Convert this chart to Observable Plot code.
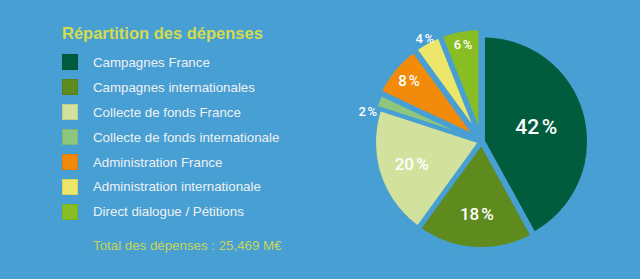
<!DOCTYPE html>
<html>
<head>
<meta charset="utf-8">
<script src="https://cdn.jsdelivr.net/npm/d3@7"></script>
<script src="https://cdn.jsdelivr.net/npm/@observablehq/plot@0.6"></script>
<style>
  html, body { margin: 0; padding: 0; background: #489fd3; }
  #wrap { position: relative; width: 640px; height: 279px; background: #489fd3; overflow: hidden; font-family: "Liberation Sans", Arial, sans-serif; }
  #legend { position: absolute; left: 62px; top: 22px; }
  #legend .title { color: #d3dc4c; font-weight: bold; font-size: 16.5px; height: 22px; line-height: 22px; margin-bottom: 6px; }
  #legend .row { display: flex; align-items: center; height: 24.9px; }
  #legend .sw { width: 16px; height: 16px; box-sizing: border-box; border: 1px solid rgba(0,0,0,0.08); margin-right: 15px; }
  #legend .lab { color: #eef1f2; font-size: 13.3px; }
  #legend .total { color: #c5d65a; font-size: 13.3px; margin-top: 14px; margin-left: 31px; }
  #chart { position: absolute; left: 0; top: 0; }
</style>
</head>
<body>
<div id="wrap">
  <div id="chart"></div>
  <div id="legend"></div>
</div>
<script>
// ---- data ----
const titleText = "Répartition des dépenses";
const categories = [
  "Campagnes France",
  "Campagnes internationales",
  "Collecte de fonds France",
  "Collecte de fonds internationale",
  "Administration France",
  "Administration internationale",
  "Direct dialogue / Pétitions"
];
const values = [42, 18, 20, 2, 8, 4, 6];
const totalText = "Total des dépenses : 25,469 M€";

// ---- style ----
const palette = ["#005c3c", "#5f8a1e", "#d2e29c", "#8ec67f", "#f28a0a", "#ece66a", "#89bd24"];
const bg = "#489fd3";
const W = 640, H = 279;
const cx = 481, cy = 141, R = 105;

// legend (HTML)
const leg = document.getElementById("legend");
leg.innerHTML = `<div class="title">${titleText}</div>` +
  categories.map((c, i) => `<div class="row"><div class="sw" style="background:${palette[i]}"></div><div class="lab">${c}</div></div>`).join("") +
  `<div class="total">${totalText}</div>`;

// pie geometry from data
const data = categories.map((c, i) => ({category: c, value: values[i]}));
const arcs = d3.pie().sort(null).value(d => d.value)(data);

const explode = v => v >= 10 ? 2 : (v <= 2 ? 6 : 8);
const fontSize = v => v >= 40 ? 21 : v >= 10 ? 17 : v >= 8 ? 15 : 13;
const labelR = v => v >= 40 ? 0.52 : v >= 10 ? 0.68 : v >= 8 ? 0.82 : v >= 6 ? 0.86 : 1.12;

const polyPts = [];
const labels = [];
for (const a of arcs) {
  const v = a.data.value;
  const mid = (a.startAngle + a.endAngle) / 2;
  const off = explode(v);
  const ox = off * Math.sin(mid), oy = -off * Math.cos(mid);
  polyPts.push({category: a.data.category, x: cx + ox, y: cy + oy});
  const n = Math.max(4, Math.ceil((a.endAngle - a.startAngle) / 0.01));
  for (let k = 0; k <= n; k++) {
    const t = a.startAngle + (a.endAngle - a.startAngle) * k / n;
    polyPts.push({category: a.data.category, x: cx + ox + R * Math.sin(t), y: cy + oy - R * Math.cos(t)});
  }
  polyPts.push({category: a.data.category, x: cx + ox, y: cy + oy});
  const lr = labelR(v) * R + (labelR(v) > 1 ? 0 : off);
  const la = v === 2 ? mid - 0.12 : mid;
  labels.push({x: cx + lr * Math.sin(la), y: cy - lr * Math.cos(la), text: v + "\u202f%", size: fontSize(v)});
}

const plot = Plot.plot({
  width: W, height: H,
  margin: 0,
  style: {background: "transparent"},
  x: {domain: [0, W], range: [0, W], axis: null},
  y: {domain: [0, H], range: [0, H], axis: null},
  color: {domain: categories, range: palette},
  marks: [
    Plot.line(polyPts, {x: "x", y: "y", z: "category", fill: "category", stroke: bg, strokeWidth: 3, strokeLinejoin: "miter", curve: "linear"}),
    Plot.text(labels, {x: "x", y: "y", text: "text", fontSize: "size", fill: "white", fontWeight: 500, fontFamily: "Roboto, 'Liberation Sans', sans-serif"})
  ]
});
document.getElementById("chart").appendChild(plot);
</script>
</body>
</html>
